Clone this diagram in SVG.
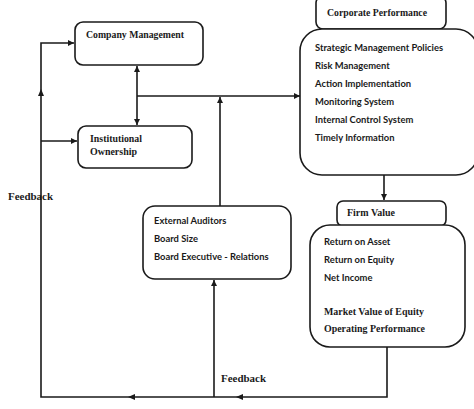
<svg xmlns="http://www.w3.org/2000/svg" width="474" height="409" viewBox="0 0 474 409">
<style>
.box{fill:#fff;stroke:#1a1a1a;stroke-width:1.6}
.ln{fill:none;stroke:#1a1a1a;stroke-width:1.6}
.ser{font-family:"Liberation Serif","Times New Roman",serif;font-weight:bold;font-size:11px;fill:#1a1a1a}
.san{font-family:Lato,"Open Sans",sans-serif;font-weight:bold;font-size:9.4px;fill:#1a1a1a}
</style>
<defs>
<marker id="ah" viewBox="0 0 10 10" refX="10" refY="5" markerWidth="7" markerHeight="6" markerUnits="userSpaceOnUse" orient="auto-start-reverse">
<path d="M0,0 L10,5 L0,10 z" fill="#1a1a1a"/>
</marker>
<path id="tri" d="M0,0 L-7,-3 L-7,3 z" fill="#1a1a1a"/>
</defs>
<g id="connectors">
<path class="ln" d="M387,347 V397 H41 V43 H74" marker-end="url(#ah)"/>
<use href="#tri" transform="translate(41,89) rotate(-90)"/>
<use href="#tri" transform="translate(236,397) rotate(180)"/>
<use href="#tri" transform="translate(128,397) rotate(180)"/>
<path class="ln" d="M41,141 H77" marker-end="url(#ah)"/>
<path class="ln" d="M137,66 V125" marker-start="url(#ah)" marker-end="url(#ah)"/>
<path class="ln" d="M137,96 H300" marker-end="url(#ah)"/>
<path class="ln" d="M220,206 V97" marker-end="url(#ah)"/>
<path class="ln" d="M214,397 V280" marker-end="url(#ah)"/>
<path class="ln" d="M384,175 V200" marker-end="url(#ah)"/>
</g>
<g id="company-management">
<rect class="box" x="75" y="22" width="128" height="43" rx="8"/>
<text class="ser" x="86" y="38" textLength="98" lengthAdjust="spacingAndGlyphs">Company Management</text>
</g>
<g id="institutional-ownership">
<rect class="box" x="78" y="126" width="114" height="42" rx="8"/>
<text class="ser" x="90" y="142" textLength="52" lengthAdjust="spacingAndGlyphs">Institutional</text>
<text class="ser" x="90" y="155" textLength="47" lengthAdjust="spacingAndGlyphs">Ownership</text>
</g>
<g id="corporate-performance-header">
<rect class="box" x="316" y="-4" width="130" height="33" rx="7"/>
<text class="ser" x="327" y="16" textLength="100" lengthAdjust="spacingAndGlyphs">Corporate Performance</text>
</g>
<g id="corporate-performance">
<rect class="box" x="300" y="29" width="178" height="146" rx="22"/>
<text class="san" x="315" y="51">Strategic Management Policies</text>
<text class="san" x="315" y="69">Risk Management</text>
<text class="san" x="315" y="87">Action Implementation</text>
<text class="san" x="315" y="105">Monitoring System</text>
<text class="san" x="315" y="123">Internal Control System</text>
<text class="san" x="315" y="141">Timely Information</text>
</g>
<g id="governance">
<rect class="box" x="143" y="206" width="148" height="73" rx="12"/>
<text class="san" x="154" y="224">External Auditors</text>
<text class="san" x="154" y="242">Board Size</text>
<text class="san" x="154" y="260">Board Executive - Relations</text>
</g>
<g id="firm-value-header">
<rect class="box" x="337" y="201" width="109" height="25" rx="6"/>
<text class="ser" x="347" y="216" textLength="48" lengthAdjust="spacingAndGlyphs">Firm Value</text>
</g>
<g id="firm-value">
<rect class="box" x="310" y="225" width="155" height="122" rx="20"/>
<text class="san" x="324" y="245">Return on Asset</text>
<text class="san" x="324" y="263">Return on Equity</text>
<text class="san" x="324" y="281">Net Income</text>
<text class="ser" x="324" y="315" textLength="100" lengthAdjust="spacingAndGlyphs">Market Value of Equity</text>
<text class="ser" x="324" y="332" textLength="101" lengthAdjust="spacingAndGlyphs">Operating Performance</text>
</g>
<g id="labels">
<text class="ser" x="8" y="200" textLength="45" lengthAdjust="spacingAndGlyphs">Feedback</text>
<text class="ser" x="221" y="382" textLength="45" lengthAdjust="spacingAndGlyphs">Feedback</text>
</g>
</svg>
